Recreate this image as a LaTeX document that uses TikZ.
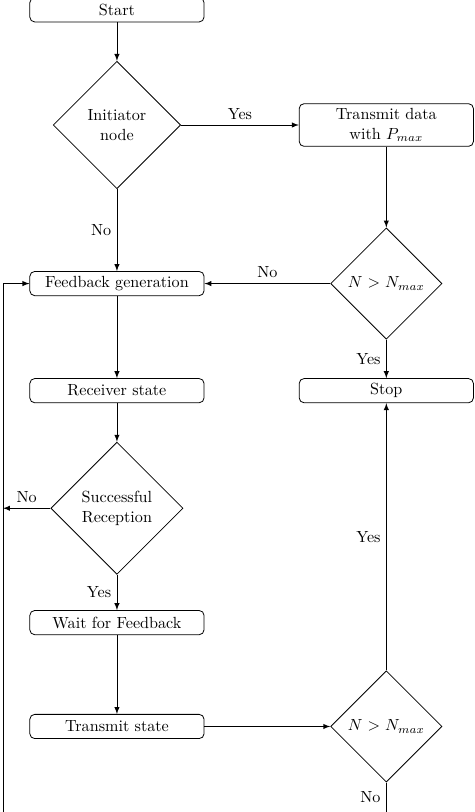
\documentclass[tikz,border=0pt]{standalone}
\usepackage{amsmath, amsfonts}
\usepackage{tikz}
\usetikzlibrary{matrix, shapes.geometric, calc}

\begin{document}
\begin{tikzpicture}[>=latex, line width=0.5pt,
  box/.style={draw, rounded corners=3pt, text width=100pt, inner xsep=4pt, inner ysep=3pt, minimum height=15pt},
  decision/.style={draw, diamond, aspect=1, inner sep=0pt, text width=52pt}]
\matrix (M)[matrix of nodes, column sep=58.5pt, row sep=24pt, nodes={anchor=center, align=center}] {
|[box]| Start & \\
|[decision, minimum size=79pt]| {Initiator\\node} & |[box]| {Transmit data\\with $P_{max}$} \\
|[box]| Feedback generation & |[decision, minimum size=69pt]| $N > N_{max}$ \\
|[box]| Receiver state & |[box]| Stop \\
|[decision, minimum size=82pt]| {Successful\\Reception} & \\[-2pt]
|[box]| Wait for Feedback & \\[-2pt]
|[box]| Transmit state & |[decision, minimum size=69pt]| $N > N_{max}$ \\
};
\coordinate (tl) at ($(M-2-1.center)+(-72.5pt,77.5pt)$);
\coordinate (br) at ($(tl)+(293.9pt,-503.4pt)$);
\coordinate (loop) at ($(tl |- br)+(1.9pt,0)$);
\pgfresetboundingbox
\useasboundingbox (tl) rectangle (br);

\draw[->] (M-1-1) -- (M-2-1);
\draw[->] (M-2-1) -- node[above] (y1) {Yes} (M-2-2);
\draw[->] (M-2-1) -- node[left] (n1) {No} (M-3-1);
\draw[->] (M-2-2) -- (M-3-2);
\draw[->] (M-3-2) -- node[above] (n2) {No} (M-3-1);
\draw[->] (M-3-2) -- node[left] (y2) {Yes} (M-4-2);
\draw[->] (M-3-1) -- (M-4-1);
\draw[->] (M-4-1) -- (M-5-1);
\draw[->] (M-5-1) -- node[left] (y3) {Yes} (M-6-1);
\draw[->] (M-5-1.west) -- node[above] (n3) {No} (M-5-1.west -| loop);
\draw[->] (M-6-1) -- (M-7-1);
\draw[->] (M-7-1) -- (M-7-2);
\draw[->] (M-7-2) -- node[left] (y4) {Yes} (M-4-2);
\draw (M-7-2.south) -- node[left] (n4) {No} (M-7-2.south |- br);
\draw[->] (loop) |- (M-3-1.west);
\end{tikzpicture}
\end{document}
